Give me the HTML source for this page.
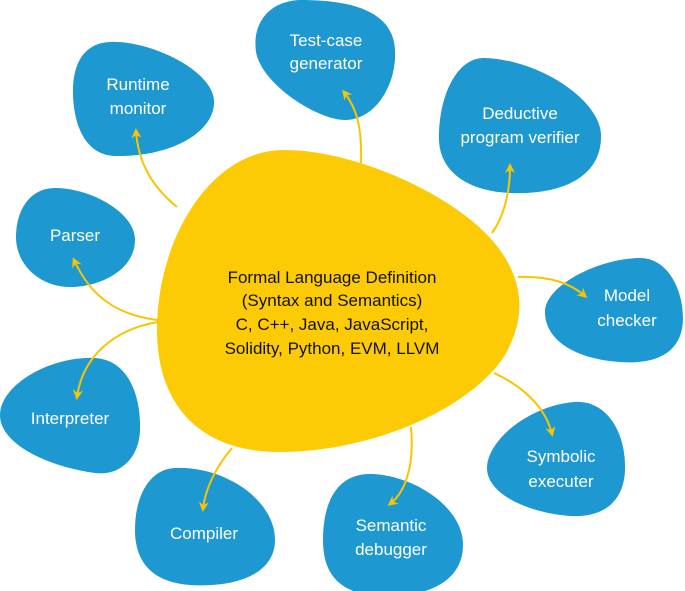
<!DOCTYPE html>
<html><head><meta charset="utf-8"><style>
html,body{margin:0;padding:0;background:#fff;overflow:hidden}
svg{display:block}
text{font-family:"Liberation Sans",sans-serif;font-size:17px;text-anchor:middle}
.w{fill:#fff}
</style></head><body>
<svg width="685" height="591" viewBox="0 0 685 591" xmlns="http://www.w3.org/2000/svg">
<defs><marker id="a" markerWidth="10" markerHeight="10" refX="7" refY="5" orient="auto" markerUnits="userSpaceOnUse"><path d="M0,0 L10,5 L0,10 L3,5 Z" fill="#f9c400"/></marker></defs>
<g fill="#1e98d0">
<path d="M110,42 C150,40 212,70 214,100 C216,130 175,157 115,156 C85,155 74,125 73,95 C72,62 85,43 110,42 Z"/>
<path d="M300,0 C345,0 393,8 395,50 C397,85 375,120 345,120 C318,120 262,85 256,52 C252,22 270,1 300,0 Z"/>
<path d="M485,58 C540,60 600,100 601,135 C602,175 565,195 510,193 C465,191 440,170 439,140 C438,100 455,57 485,58 Z"/>
<path d="M55,188 C90,188 135,212 135,240 C135,270 100,287 70,287 C40,287 16,265 16,237 C16,210 30,188 55,188 Z"/>
<path d="M640,258 C668,258 683,290 683,318 C683,350 660,365 620,362 C575,359 545,340 545,312 C545,285 600,258 640,258 Z"/>
<path d="M95,358 C128,360 141,395 140,430 C139,460 118,476 95,473 C50,467 0,445 0,415 C0,385 50,356 95,358 Z"/>
<path d="M575,402 C605,400 626,430 625,470 C624,500 605,518 570,516 C530,513 487,495 487,468 C487,440 530,405 575,402 Z"/>
<path d="M175,468 C225,466 275,500 275,540 C275,572 240,588 190,585 C150,582 135,560 135,530 C135,495 150,469 175,468 Z"/>
<path d="M370,474 C410,474 463,505 463,545 C463,580 430,598 380,596 C340,594 323,575 323,540 C323,505 335,474 370,474 Z"/>
</g>
<path fill="#fccb06" d="M284,150 C360,150 465,200 500,250 C525,285 525,320 505,355 C470,410 370,452 280,452 C195,452 157,400 157,330 C157,240 210,150 284,150 Z"/>
<g fill="none" stroke="#f9c400" stroke-width="2" marker-end="url(#a)">
<path d="M177,207 C150,185 138,160 136,131"/>
<path d="M361,163 C362,130 358,110 344,92"/>
<path d="M492,233 C505,215 510,190 510,166"/>
<path d="M158,320 C115,315 90,295 74,260"/>
<path d="M518,277 C550,276 570,283 585,296"/>
<path d="M158,322 C110,330 82,360 77,397"/>
<path d="M494,373 C520,385 545,405 552,434"/>
<path d="M411,427 C414,460 408,490 390,504"/>
<path d="M232,448 C215,468 205,490 203,509"/>
</g>
<g class="w">
<text x="138" y="90">Runtime</text><text x="138" y="114">monitor</text>
<text x="326" y="46">Test-case</text><text x="326" y="69">generator</text>
<text x="520" y="119">Deductive</text><text x="520" y="143">program verifier</text>
<text x="75" y="241">Parser</text>
<text x="627" y="301">Model</text><text x="627" y="326">checker</text>
<text x="70" y="424">Interpreter</text>
<text x="561" y="462">Symbolic</text><text x="561" y="487">executer</text>
<text x="204" y="539">Compiler</text>
<text x="391" y="531">Semantic</text><text x="391" y="555">debugger</text>
</g>
<g fill="#111">
<text x="332" y="283">Formal Language Definition</text>
<text x="332" y="306">(Syntax and Semantics)</text>
<text x="332" y="330">C, C++, Java, JavaScript,</text>
<text x="332" y="354">Solidity, Python, EVM, LLVM</text>
</g>
</svg>
</body></html>
